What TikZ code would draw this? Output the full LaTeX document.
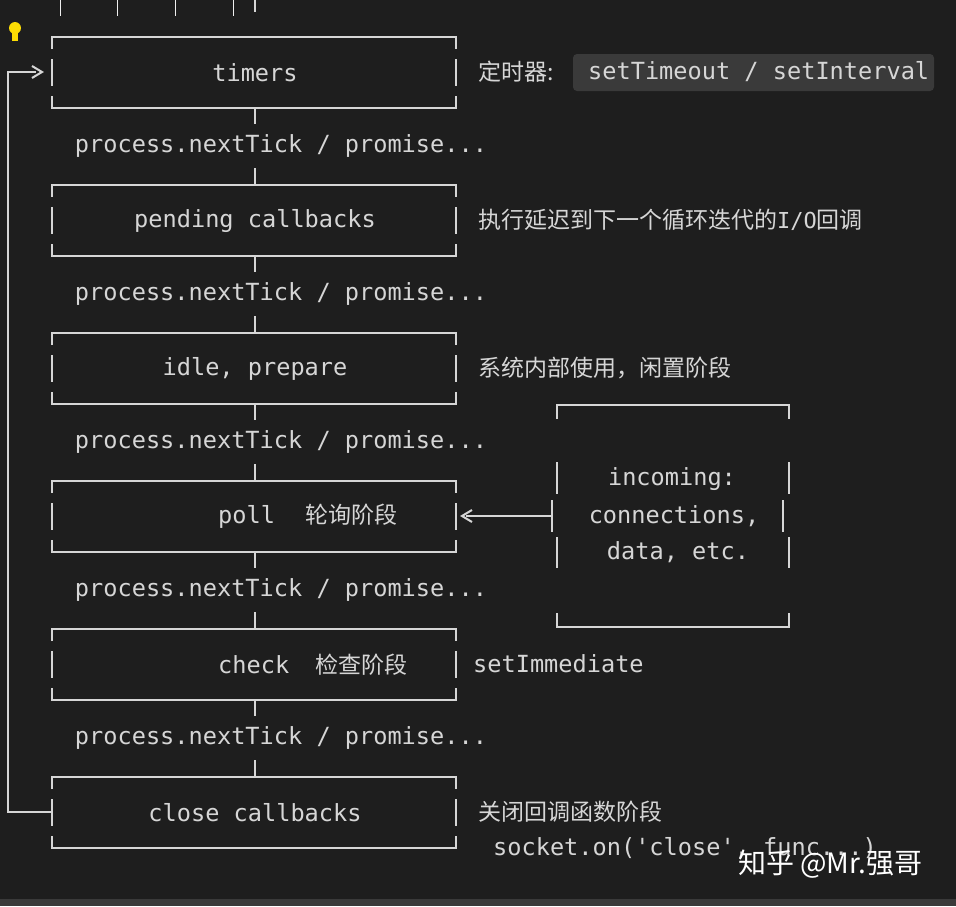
\documentclass[tikz,border=0pt]{standalone}
\usepackage{fontspec}
\setmonofont{DejaVu Sans Mono}
\newfontfamily\cjk{Noto Sans CJK SC}
\definecolor{bg}{HTML}{1E1E1E}
\definecolor{fg}{HTML}{D6D6D6}
\definecolor{hl}{HTML}{3A3A3A}
\begin{document}
\begin{tikzpicture}[x=1pt,y=-1pt,
  txt/.style={text=fg,font=\ttfamily\fontsize{23.6}{26}\selectfont,inner sep=0pt},
  cn/.style={text=fg,font=\cjk\fontsize{23}{26}\selectfont,inner sep=0pt},
  ln/.style={draw=fg,line width=2pt}]
\fill[bg] (0,0) rectangle (956,906);
\useasboundingbox (0,0) rectangle (956,906);
\fill[hl] (0,899) rectangle (956,906);
% faint top ticks
\foreach \x in {60,117,175,233} \draw[fg!40,line width=1pt] (\x,0) -- (\x,16);
\draw[ln] (255,0) -- (255,12);
% bulb
\fill[yellow!80!orange] (15,28) circle (6);
\fill[yellow!80!orange] (12,33) rectangle (18,41);
% boxes
\newcommand{\abox}[3]{% name, top y, label
  \coordinate (#1-t) at (255,#2);
  \coordinate (#1-b) at (255,#2+71);
  \draw[ln] (52,#2+12) -- (52,#2) -- (456,#2) -- (456,#2+12);
  \draw[ln] (52,#2+59) -- (52,#2+71) -- (456,#2+71) -- (456,#2+59);
  \draw[ln] (52,#2+22) -- (52,#2+49);
  \draw[ln] (456,#2+22) -- (456,#2+49);
  \node[txt] (#1) at (255,#2+35.5) {#3};
  \coordinate (#1-r) at (456,#2+35.5);
  \coordinate (#1-l) at (52,#2+35.5);
}
\abox{timers}{37}{timers}
\abox{pend}{185}{pending callbacks}
\abox{idle}{333}{idle, prepare}
\node[txt,anchor=west] (polltx) at (218,516.5) {poll\hspace{1.3em}{\cjk\fontsize{23}{26}\selectfont 轮询阶段}};
\node[txt,anchor=west] (checktx) at (218,664.5) {check\hspace{1.1em}{\cjk\fontsize{23}{26}\selectfont 检查阶段}};
\abox{poll}{481}{}
\abox{check}{629}{}
\abox{close}{777}{close callbacks}
% nextTick labels
\foreach \n/\y in {1/146,2/294,3/442,4/590,5/738}
  \node[txt] (nt\n) at (281,\y) {process.nextTick / promise...};
\draw[ln] (timers-b) -- (255,124); \draw[ln] (255,168) -- (pend-t);
\draw[ln] (pend-b) -- (255,272); \draw[ln] (255,316) -- (idle-t);
\draw[ln] (idle-b) -- (255,420); \draw[ln] (255,464) -- (poll-t);
\draw[ln] (poll-b) -- (255,568); \draw[ln] (255,612) -- (check-t);
\draw[ln] (check-b) -- (255,716); \draw[ln] (255,760) -- (close-t);
% loop back
\coordinate (lb) at (8,812);
\draw[ln] (close-l |- 0,812) -- (lb) -- (8,72) -- (36,72);
\draw[ln] (32,66) -- (42,72) -- (32,78);
% right side texts
\node[cn,anchor=west] (t1) at (478,72) {定时器:};
\fill[hl,rounded corners=4pt] (573,54) rectangle (934,91);
\node[txt,anchor=west] (t1b) at (588,72) {setTimeout / setInterval};
\node[anchor=west,inner sep=0pt,text=fg] (t2) at (478,220) {{\cjk\fontsize{23}{26}\selectfont 执行延迟到下一个循环迭代的}{\ttfamily\fontsize{22}{24}\selectfont I/O}{\cjk\fontsize{23}{26}\selectfont 回调}};
\node[cn,anchor=west] (t3) at (478,368) {系统内部使用，闲置阶段};
\node[txt,anchor=west] (t5) at (473,664) {setImmediate};
\node[cn,anchor=west] (t6) at (478,812) {关闭回调函数阶段};
\node[txt,anchor=west] (t7) at (493,848) {socket.on('close', func...)};
% incoming box
\draw[ln] (557,419) -- (557,405) -- (789,405) -- (789,419);
\draw[ln] (557,613) -- (557,627) -- (789,627) -- (789,613);
\draw[ln] (557,462) -- (557,494); \draw[ln] (789,462) -- (789,494);
\draw[ln] (552,500) -- (552,532); \draw[ln] (783,500) -- (783,532);
\draw[ln] (557,537) -- (557,568); \draw[ln] (789,537) -- (789,568);
\node[txt] (inc1) at (672,479) {incoming:};
\node[txt] (inc2) at (674,516) {connections,};
\node[txt] (inc3) at (678,552) {data, etc.};
\coordinate (inl) at (552,516);
\draw[ln] (inl) -- (466,516);
\draw[ln] (472,510) -- (462,516) -- (472,522);
% watermark
\node[text=white,font=\cjk\fontsize{28}{30}\selectfont,anchor=west,inner sep=0pt] (wm) at (738,864) {知乎 @Mr.强哥};
\end{tikzpicture}
\end{document}
